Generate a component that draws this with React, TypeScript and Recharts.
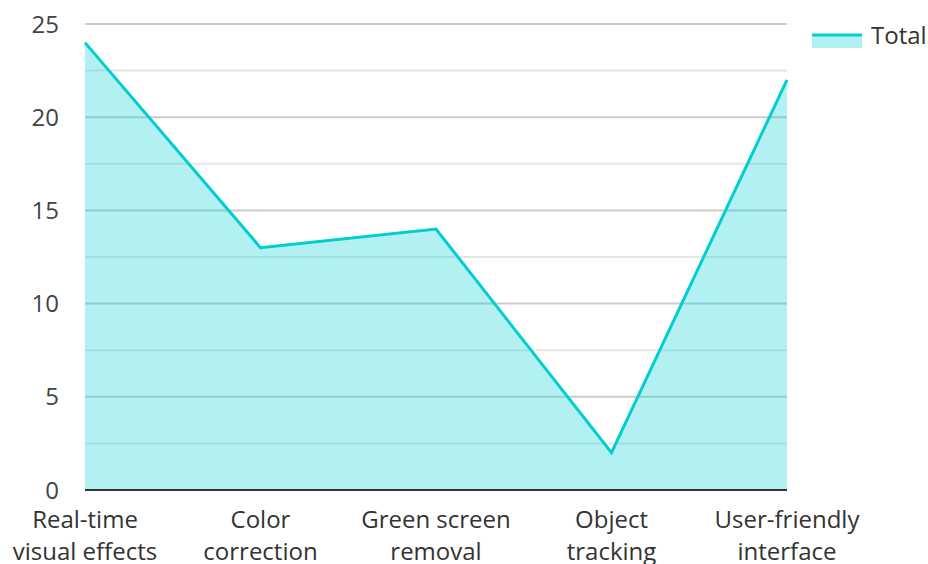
import React from "react";
import { AreaChart, Area, XAxis, YAxis, CartesianGrid, Legend } from "recharts";

const categories = [
  "Real-time visual effects",
  "Color correction",
  "Green screen removal",
  "Object tracking",
  "User-friendly interface",
];
const tickLabelLines = [
  ["Real-time", "visual effects"],
  ["Color", "correction"],
  ["Green screen", "removal"],
  ["Object", "tracking"],
  ["User-friendly", "interface"],
];
const totals = [24, 13, 14, 2, 22];
const yTicks = [0, 2.5, 5, 7.5, 10, 12.5, 15, 17.5, 20, 22.5, 25];
const seriesName = "Total";

const data = categories.map((c, i) => ({ name: c, total: totals[i] }));

const COLOR = "#00CED1";
const FONT = "'Open Sans', 'Noto Sans', sans-serif";

const XTick = (props: any) => {
  const { x, y, index } = props;
  const lines = tickLabelLines[index] || [String(props.payload?.value ?? "")];
  return (
    <g>
      {lines.map((l: string, i: number) => (
        <text
          key={i}
          x={x}
          y={y + 38 + i * 32}
          textAnchor="middle"
          fontSize={24}
          fontFamily={FONT}
          fill="#333"
        >
          {l}
        </text>
      ))}
    </g>
  );
};

const GridLine = (props: any) => {
  const { x1, x2, y1, y2, index } = props;
  const minor = index % 2 === 1;
  return (
    <line
      x1={x1}
      x2={x2}
      y1={y1}
      y2={y2}
      stroke={minor ? "#e6e6e6" : "#cccccc"}
      strokeWidth={2}
    />
  );
};

const LegendContent = () => (
  <svg width={116} height={40}>
    <rect x={0} y={14} width={50} height={14} fill={COLOR} fillOpacity={0.3} />
    <line x1={0} x2={50} y1={15} y2={15} stroke={COLOR} strokeWidth={3} />
    <text x={59} y={24} fontSize={24} fontFamily={FONT} fill="#333">
      {seriesName}
    </text>
  </svg>
);

export default function App() {
  return (
    <div style={{ position: "absolute", left: 0, top: 0, fontFamily: FONT }}>
      <AreaChart
        width={928}
        height={564}
        data={data}
        margin={{ top: 24, right: 141, bottom: 14, left: 0 }}
      >
        <CartesianGrid vertical={false} horizontal={GridLine as any} />
        <XAxis
          dataKey="name"
          tick={<XTick />}
          tickLine={false}
          tickSize={0}
          tickMargin={0}
          height={60}
          interval={0}
          axisLine={{ stroke: "#333", strokeWidth: 2 }}
        />
        <YAxis
          domain={[0, 25]}
          ticks={yTicks}
          interval={0}
          width={85}
          axisLine={false}
          tickLine={false}
          tickSize={0}
          tickMargin={26}
          tickFormatter={(v: number) => (v % 5 === 0 ? String(v) : "")}
          tick={{ fontSize: 24, fill: "#444", fontFamily: FONT }}
        />
        <Legend
          layout="horizontal"
          verticalAlign="middle"
          align="center"
          content={<LegendContent />}
          wrapperStyle={{ left: 812, top: 20, width: 116, height: 40 }}
        />
        <Area
          type="linear"
          dataKey="total"
          name={seriesName}
          stroke={COLOR}
          strokeWidth={3}
          fill={COLOR}
          fillOpacity={0.3}
          dot={false}
          activeDot={false}
          isAnimationActive={false}
        />
      </AreaChart>
    </div>
  );
}
